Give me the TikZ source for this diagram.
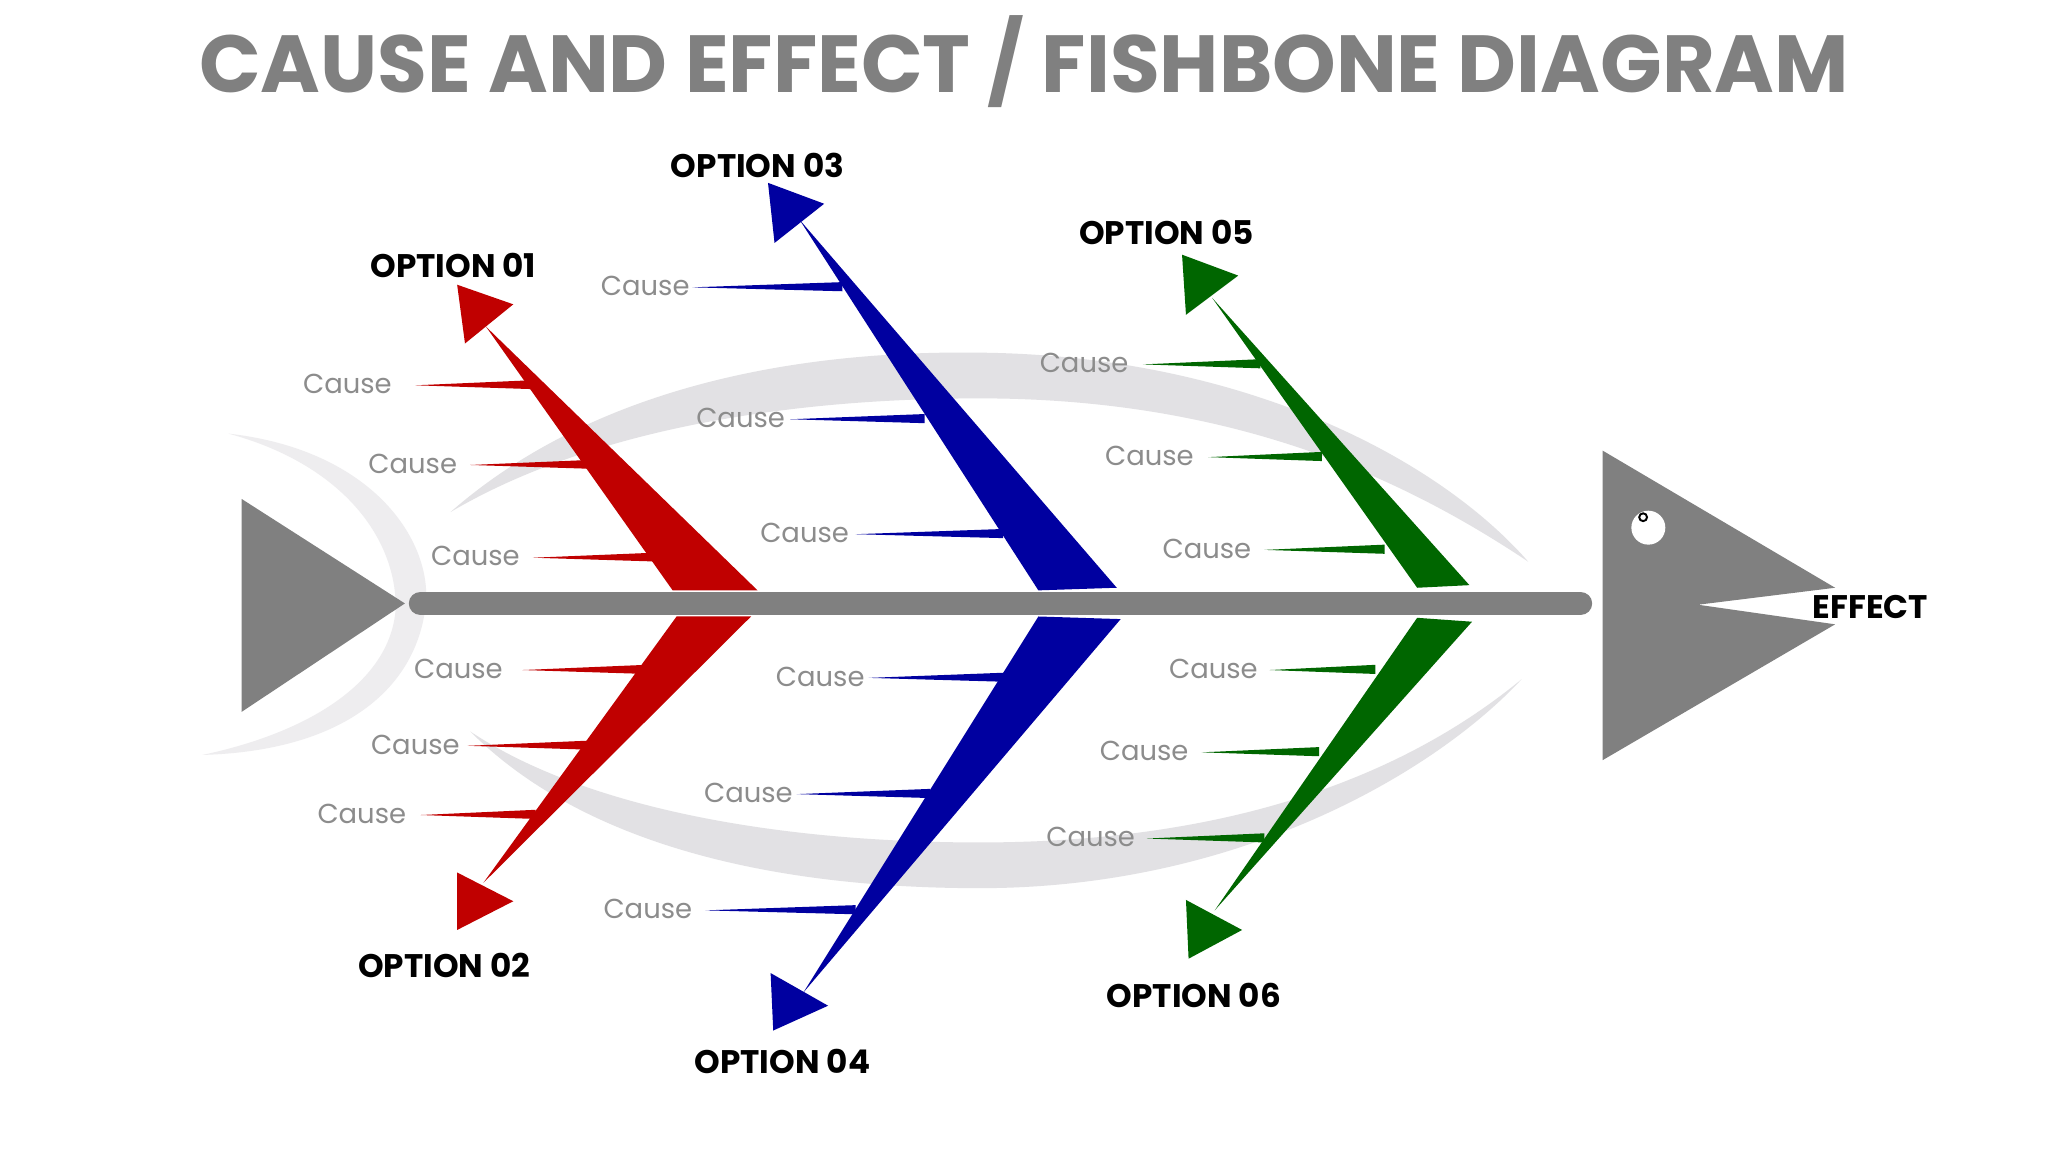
\documentclass[tikz,border=0pt]{standalone}
\usepackage{fontspec}
\setmainfont{Poppins}
\definecolor{cred}{HTML}{C00000}
\definecolor{cblue}{HTML}{0000A0}
\definecolor{cgreen}{HTML}{006600}
\definecolor{bone}{HTML}{808080}
\definecolor{ghost}{HTML}{E2E1E4}
\tikzset{
 causetxt/.style={text=black!45,font=\fontsize{21}{21}\selectfont,inner sep=0pt},
 opttxt/.style={font=\bfseries\fontsize{25}{25}\selectfont,inner sep=0pt},
}
\newcommand{\cz}[7]{% name color textx y x1 x2 dir
 \node[causetxt] (#1) at (#3,#4) {Cause};
 \fill[#2] (#5,#4+1) -- (#6,#4-3) -- (#6,#4+4) -- cycle;}
\begin{document}
\begin{tikzpicture}[x=1pt,y=-1pt]
\useasboundingbox (0,0) rectangle (1568,882);
\fill[white] (0,0) rectangle (1568,882);
% title
\node[text=bone,font=\bfseries\fontsize{62}{62}\selectfont,inner sep=0pt] (title) at (784,47) {CAUSE AND EFFECT / FISHBONE DIAGRAM};
% ghost arcs
\fill[ghost] (345,392) .. controls (450,300) and (600,268) .. (750,270) .. controls (950,272) and (1100,350) .. (1170,430)
 .. controls (1080,370) and (950,305) .. (750,305) .. controls (600,305) and (450,330) .. (345,392) -- cycle;
\fill[ghost] (360,560) .. controls (450,650) and (600,680) .. (750,680) .. controls (950,680) and (1100,590) .. (1165,520)
 .. controls (1080,590) and (950,645) .. (750,645) .. controls (600,645) and (450,620) .. (360,560) -- cycle;
\fill[ghost!60] (175,332) .. controls (290,345) and (335,420) .. (325,470) .. controls (315,530) and (260,575) .. (155,578)
 .. controls (240,560) and (300,520) .. (303,465) .. controls (303,410) and (260,355) .. (175,332) -- cycle;
% tail
\fill[bone] (185,382) -- (310,462) -- (185,545) -- cycle;
% spine
\coordinate (s1) at (322,462); \coordinate (s2) at (1210,462);
\draw[bone,line width=18pt,line cap=round] (s1) -- (s2);
% head
\fill[bone] (1227,345) -- (1405,450) -- (1300,463) -- (1405,478) -- (1227,582) -- cycle;
\fill[white] (1262,404) circle (13);
\draw[black,line width=1.5pt] (1258,396) circle (3);
\node[opttxt] (effect) at (1432,465) {EFFECT};
% red
\fill[cred] (372,250) -- (580,452) -- (515,452) -- cycle;
\fill[cred] (370,676) -- (575,472) -- (518,472) -- cycle;
\fill[cred] (350,218) -- (393,233) -- (356,263) -- cycle;
\fill[cred] (350,668) -- (393,690) -- (350,712) -- cycle;
\node[opttxt] (o1) at (347,203) {OPTION 01};
\node[opttxt] (o2) at (340,739) {OPTION 02};
\cz{r1}{cred}{266}{294}{318}{410}{}
\cz{r2}{cred}{316}{355}{360}{455}{}
\cz{r3}{cred}{364}{426}{408}{505}{}
\cz{r4}{cred}{351}{512}{400}{495}{}
\cz{r5}{cred}{318}{570}{358}{452}{}
\cz{r6}{cred}{277}{623}{322}{410}{}
% blue
\fill[cblue] (612,168) -- (855,450) -- (795,452) -- cycle;
\fill[cblue] (615,760) -- (858,474) -- (795,472) -- cycle;
\fill[cblue] (588,140) -- (631,156) -- (593,186) -- cycle;
\fill[cblue] (590,745) -- (634,770) -- (592,789) -- cycle;
\node[opttxt] (o3) at (580,127) {OPTION 03};
\node[opttxt] (o4) at (599,813) {OPTION 04};
\cz{b1}{cblue}{494}{219}{530}{645}{}
\cz{b2}{cblue}{567}{320}{605}{708}{}
\cz{b3}{cblue}{616}{408}{655}{768}{}
\cz{b4}{cblue}{628}{518}{665}{770}{}
\cz{b5}{cblue}{573}{607}{610}{712}{}
\cz{b6}{cblue}{496}{696}{540}{655}{}
% green
\fill[cgreen] (928,228) -- (1125,448) -- (1085,450) -- cycle;
\fill[cgreen] (930,697) -- (1127,476) -- (1085,473) -- cycle;
\fill[cgreen] (905,195) -- (948,211) -- (908,241) -- cycle;
\fill[cgreen] (908,689) -- (951,712) -- (910,734) -- cycle;
\node[opttxt] (o5) at (893,178) {OPTION 05};
\node[opttxt] (o6) at (914,762) {OPTION 06};
\cz{g1}{cgreen}{830}{278}{875}{965}{}
\cz{g2}{cgreen}{880}{349}{925}{1012}{}
\cz{g3}{cgreen}{924}{420}{968}{1060}{}
\cz{g4}{cgreen}{929}{512}{972}{1053}{}
\cz{g5}{cgreen}{876}{575}{920}{1010}{}
\cz{g6}{cgreen}{835}{641}{878}{968}{}
\end{tikzpicture}
\end{document}
